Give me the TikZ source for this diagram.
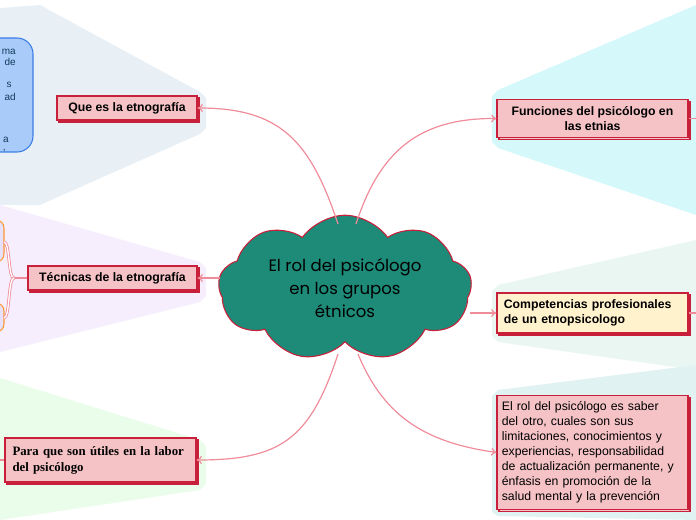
\documentclass[tikz,border=0pt]{standalone}
\usepackage{fontspec}
\setmainfont{Liberation Sans}
\newfontfamily\cloudfont{Poppins}
\newfontfamily\parafont{Liberation Serif}
\usetikzlibrary{shapes.symbols,arrows.meta,shadows}
\definecolor{crim}{HTML}{C8203A}
\definecolor{pinkfill}{HTML}{F5C3C6}
\definecolor{conn}{HTML}{F08C9A}
\definecolor{tealc}{HTML}{1E8A78}
\definecolor{fanA}{HTML}{E8F0F6}
\definecolor{fanB}{HTML}{F6EEFC}
\definecolor{fanC}{HTML}{EAFCEA}
\definecolor{fanD}{HTML}{D5F8FB}
\definecolor{fanE}{HTML}{EAF6F1}
\definecolor{fanF}{HTML}{E0F2F2}
\definecolor{bluebd}{HTML}{3B7EE8}
\definecolor{bluefill}{HTML}{A8CBFA}
\definecolor{lav}{HTML}{E6E0FA}
\definecolor{cream}{HTML}{FFF2CC}
\definecolor{btext}{HTML}{143C5A}
\tikzset{
  x=0.75pt,y=-0.75pt,
  topic/.style={draw=crim,fill=pinkfill,line width=0.8pt,inner sep=0pt,font=\bfseries\fontsize{9.2}{11}\selectfont,
    copy shadow={shadow xshift=1.5pt,shadow yshift=-1.5pt,draw=crim,fill=pinkfill}},
  conline/.style={draw=conn,line width=0.9pt},
  arr/.style={conline,-{To[length=4pt,width=6pt]}},
}
\begin{document}
\begin{tikzpicture}
\useasboundingbox (0,0) rectangle (696,520);
% background fans
\fill[fanA] (0,8) -- (40,5) -- (200,92) -- (206,98) -- (206,128) -- (200,134) -- (40,205) -- (0,205) -- cycle;
\fill[fanB] (0,205) -- (200,262) -- (206,268) -- (206,296) -- (200,302) -- (0,352) -- cycle;
\fill[fanC] (0,378) -- (200,440) -- (206,446) -- (206,484) -- (200,490) -- (0,520) -- cycle;
\fill[fanD] (696,5) -- (498,90) -- (492,96) -- (492,142) -- (498,148) -- (696,215) -- cycle;
\fill[fanE] (696,240) -- (498,285) -- (492,291) -- (492,336) -- (498,342) -- (696,370) -- cycle;
\fill[fanF] (696,365) -- (498,390) -- (492,396) -- (492,512) -- (498,516) -- (696,520) -- cycle;
% blue box on left
\draw[draw=bluebd,fill=bluefill,line width=0.8pt,rounded corners=12pt] (-30,38) rectangle (33,152);
\begin{scope}[font=\fontsize{7.5}{9}\selectfont,color=btext]
\node[anchor=east,inner sep=0pt] (b1) at (16,52) {ma};
\node[anchor=east,inner sep=0pt] (b2) at (16,62) {de};
\node[anchor=east,inner sep=0pt] (b3) at (12,85) {s};
\node[anchor=east,inner sep=0pt] (b4) at (16,97) {ad};
\node[anchor=east,inner sep=0pt] (b5) at (9,140) {a};
\node[anchor=east,inner sep=0pt] (b6) at (6,151) {,};
\end{scope}
% orange boxes left
\draw[draw=orange!80,fill=lav,line width=0.8pt,rounded corners=6pt] (-20,220) rectangle (4,262);
\draw[draw=orange!80,fill=lav,line width=0.8pt,rounded corners=6pt] (-20,303) rectangle (4,332);
\coordinate (oa) at (4,242);
\coordinate (ob) at (4,318);
\coordinate (tl) at (14,278);
% nodes
\node[topic,minimum width=105pt,minimum height=18pt] (que) at (127,108) {Que es la etnografía};
\node[topic,minimum width=126.75pt,minimum height=18pt] (tec) at (112.5,278) {Técnicas de la etnografía};
\node[topic,minimum width=143.25pt,minimum height=33pt,font=\parafont\bfseries\fontsize{9.6}{12}\selectfont,align=left,text width=132pt] (para) at (100.5,460) {Para que son útiles en la labor\\del psicólogo};
\node[topic,minimum width=143.25pt,minimum height=29pt,align=center] (fun) at (592.5,118.5) {Funciones del psicólogo en\\las etnias};
\node[topic,fill=cream,copy shadow={shadow xshift=1.5pt,shadow yshift=-1.5pt,draw=crim,fill=cream},minimum width=143.25pt,minimum height=30pt,align=left,text width=133pt] (comp) at (592.5,313) {Competencias profesionales\\de un etnopsicologo};
\node[topic,font=\fontsize{9.2}{11.3}\selectfont,minimum width=143.25pt,minimum height=85pt,align=left,text width=136pt] (rol) at (592.5,452.5) {El rol del psicólogo es saber\\del otro, cuales son sus\\limitaciones, conocimientos y\\experiencias, responsabilidad\\de actualización permanente, y\\énfasis en promoción de la\\salud mental y la prevención};
% cloud
\node[cloud,cloud puffs=9,cloud puff arc=110,aspect=1.9,draw=crim,fill=tealc,line width=0.8pt,minimum width=190pt,minimum height=107pt,align=center,font=\cloudfont\fontsize{12.4}{17}\selectfont,text=black,inner sep=0pt] (c) at (345,288) {El rol del psicólogo\\en los grupos\\étnicos};
\coordinate (cw) at (220,278);
\coordinate (ce) at (470,313);
% connectors
\draw[arr] (338,224) .. controls (310,140) and (280,108) .. (que.east);
\draw[arr] (356,224) .. controls (380,150) and (420,118) .. (fun.west);
\draw[arr] (cw) -- (tec.east);
\draw[arr] (338,354) .. controls (310,440) and (280,460) .. (para.east);
\draw[arr] (358,354) .. controls (385,420) and (430,443) .. (rol.west);
\draw[arr] (ce) -- (comp.west);
% stubs
\coordinate (fr) at (696,118.5);
\coordinate (cr) at (696,313);
\coordinate (pl) at (0,460);
\draw[conline] (fun.east) -- (fr);
\draw[conline] (comp.east) -- (cr);
\draw[conline] (para.west) -- (pl);
\draw[conline] (tec.west) -- (tl);
\draw[conline,double=white,double distance=1pt,line width=0.6pt] (tl) .. controls (8,278) and (10,242) .. (oa);
\draw[conline,double=white,double distance=1pt,line width=0.6pt] (tl) .. controls (8,278) and (10,318) .. (ob);
\end{tikzpicture}
\end{document}
